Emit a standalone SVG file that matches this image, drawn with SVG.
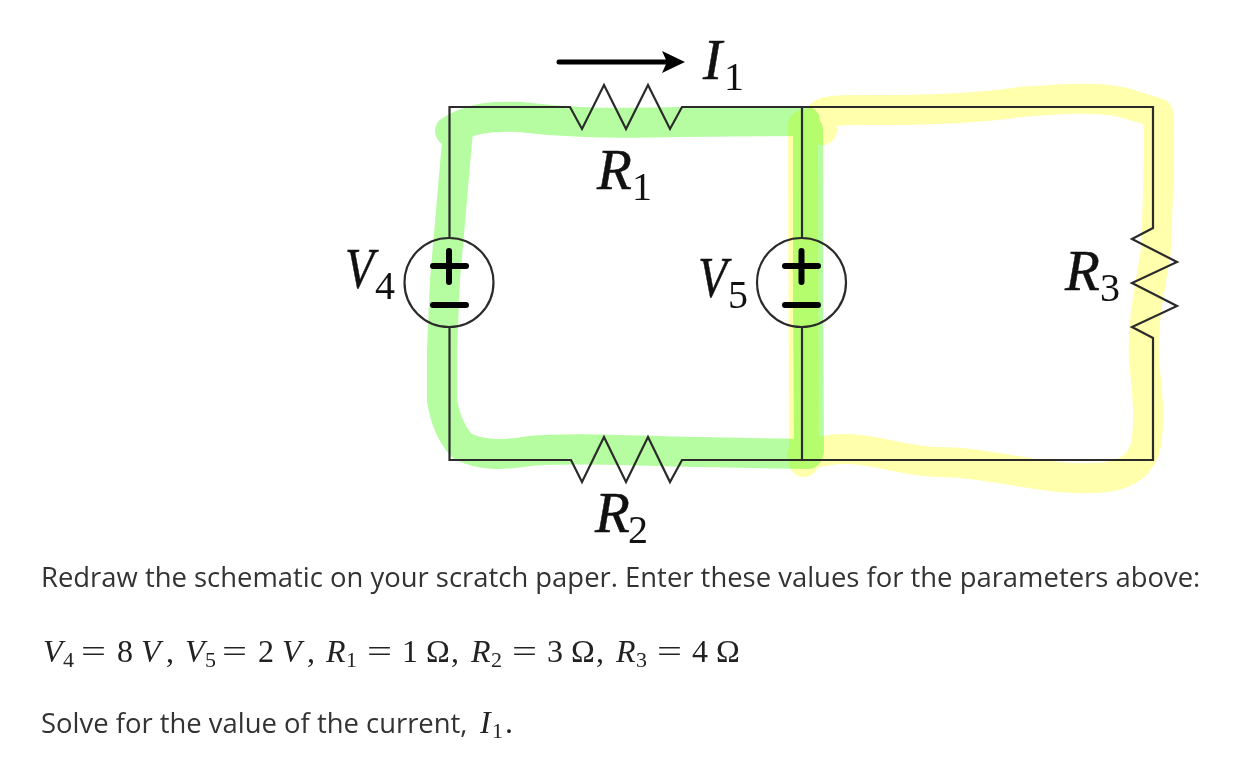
<svg xmlns="http://www.w3.org/2000/svg" width="1242" height="762" viewBox="0 0 1242 762">
<style>
.mb{mix-blend-mode:multiply}
.hl{fill:none;stroke-width:30;stroke-linecap:round;stroke-linejoin:round}
.g{stroke:#b6fda2}.y{stroke:#ffffac}
.w{fill:none;stroke:#2b2b2b;stroke-width:2.2;stroke-linejoin:miter}
.sym{fill:none;stroke:#000;stroke-width:6;stroke-linecap:round}
.c{fill:none;stroke:#2b2b2b;stroke-width:2.2}
.m{font-family:"Liberation Serif",serif;font-style:italic;font-size:57px;fill:#111;stroke:#111;stroke-width:.5}
.s{font-family:"Liberation Serif",serif;font-size:40px;fill:#111}
.p{font-family:"Open Sans","Noto Sans",sans-serif;font-size:27.430px;fill:#333}
.e{font-family:"Liberation Serif",serif;font-size:32px;fill:#222}
.ei{font-style:italic}
.es{font-size:22px}
</style>
<rect width="1242" height="762" fill="#fff"/>
<g id="highlights">
<g class="mb">
<path class="hl y" d="M822 130C810 108 830 110 880 110C940 110 980 108 1020 102C1060 99 1100 96 1125 103L1158 113C1160 150 1158 200 1156 250C1150 290 1142 320 1144 360C1148 400 1150 420 1146 445C1140 470 1120 478 1090 478C1040 480 990 462 940 462C900 462 870 445 830 450L802 455"/>
<path class="hl y" d="M803 125L804 462"/>
</g>
<g class="mb">
<path class="hl g" d="M450 131C470 118 490 116 520 117C560 122 600 124 680 122L805 121"/>
<path class="hl g" d="M458 130L445 280L442 350L442 400C445 420 452 435 462 446C480 455 500 456 530 451C570 447 640 451 700 452L808 454"/>
<path class="hl g" d="M808 130L808 300L809 450"/>
</g>
</g>
<g id="connectors">
<path class="w" d="M449.500 238V107H570L582 129L604 85L626 129L648 85L670 129L682 107H802V238"/>
<path class="w" d="M802 107H1153V228L1132 239L1177 262L1132 283L1177 306L1132 327L1153 338V460H682L670 482L648 437L626 482L604 437L582 482L571 460H449.500V327"/>
<path class="w" d="M802 327V460"/>
</g>
<g id="V4"><circle class="c" cx="449" cy="282.500" r="44.500"/><path class="sym" d="M449 251V282M433 266H466M433 305H466"/>
<text class="m" x="345" y="288" textLength="29" lengthAdjust="spacingAndGlyphs">V</text><text class="s" x="375" y="299">4</text></g>
<g id="V5"><circle class="c" cx="801.500" cy="282.500" r="44.500"/><path class="sym" d="M801.500 251V282M785 266H818M785 305H818"/>
<text class="m" x="698" y="297" textLength="29" lengthAdjust="spacingAndGlyphs">V</text><text class="s" x="728" y="308">5</text></g>
<g id="R1"><text class="m" x="597" y="189">R</text><text class="s" x="632" y="200">1</text></g>
<g id="R2"><text class="m" x="595" y="532">R</text><text class="s" x="628" y="543">2</text></g>
<g id="R3"><text class="m" x="1065" y="290">R</text><text class="s" x="1100" y="301">3</text></g>
<g id="I1"><path d="M559 62H668" fill="none" stroke="#000" stroke-width="5" stroke-linecap="round"/><path d="M685 62L662 51L667 62L662 73Z" fill="#000"/>
<text class="m" x="703" y="79">I</text><text class="s" x="724" y="90">1</text></g>
<g id="text">
<text class="p" x="41" y="587">Redraw the schematic on your scratch paper. Enter these values for the parameters above:</text>
<text class="e"><tspan class="ei" x="43" y="662">V</tspan><tspan class="es" x="63" y="667">4</tspan><tspan x="117" y="662">8</tspan><tspan class="ei" x="141" y="662">V</tspan><tspan x="166" y="662">,</tspan><tspan class="ei" x="185" y="662">V</tspan><tspan class="es" x="205" y="667">5</tspan><tspan x="258" y="662">2</tspan><tspan class="ei" x="282" y="662">V</tspan><tspan x="307" y="662">,</tspan><tspan class="ei" x="326" y="662">R</tspan><tspan class="es" x="346" y="667">1</tspan><tspan x="402" y="662">1</tspan><tspan x="426" y="662">Ω</tspan><tspan x="451" y="662">,</tspan><tspan class="ei" x="471" y="662">R</tspan><tspan class="es" x="491" y="667">2</tspan><tspan x="547" y="662">3</tspan><tspan x="571" y="662">Ω</tspan><tspan x="596" y="662">,</tspan><tspan class="ei" x="616" y="662">R</tspan><tspan class="es" x="636" y="667">3</tspan><tspan x="692" y="662">4</tspan><tspan x="716" y="662">Ω</tspan></text>
<text class="e" x="81" y="662" textLength="25" lengthAdjust="spacingAndGlyphs">=</text>
<text class="e" x="222" y="662" textLength="25" lengthAdjust="spacingAndGlyphs">=</text>
<text class="e" x="367" y="662" textLength="25" lengthAdjust="spacingAndGlyphs">=</text>
<text class="e" x="512" y="662" textLength="25" lengthAdjust="spacingAndGlyphs">=</text>
<text class="e" x="657" y="662" textLength="25" lengthAdjust="spacingAndGlyphs">=</text>
<text class="p" x="41" y="733">Solve for the value of the current,</text>
<text class="e" y="733"><tspan class="ei" x="480">I</tspan><tspan class="es" x="492" y="738">1</tspan><tspan x="505" y="733">.</tspan></text>
</g>
</svg>
